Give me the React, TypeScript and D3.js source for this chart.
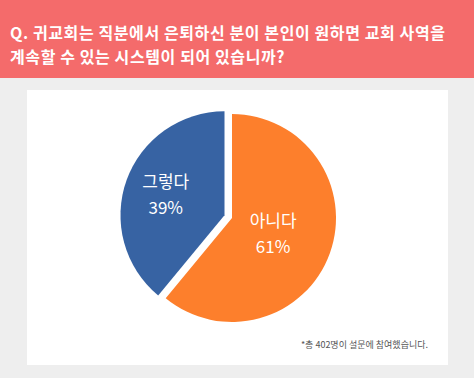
import React from "react";
import * as d3 from "d3";

const categories = ["아니다", "그렇다"];
const values = [61, 39];
const colors = ["#fd7f2c", "#3763a3"];
const titleLines = [
  "Q. 귀교회는 직분에서 은퇴하신 분이 본인이 원하면 교회 사역을",
  "계속할 수 있는 시스템이 되어 있습니까?",
];
const footnote = "*총 402명이 설문에 참여했습니다.";

export default function App() {
  const W = 474, H = 378;
  const cx = 232, cy = 218, r = 104;
  const pie = d3.pie<number>().sort(null).value((d) => d);
  const arcs = pie(values);
  const arc = d3.arc<d3.PieArcDatum<number>>().innerRadius(0).outerRadius(r);
  const offsets = [0, 8];
  const labelR = [r * 0.42, r * 0.6];
  return (
    <svg width={W} height={H} style={{ position: "absolute", left: 0, top: 0 }}
      fontFamily="'Noto Sans CJK KR', 'Noto Sans', sans-serif">
      <rect x={0} y={0} width={W} height={H} fill="#eeeeee" />
      <rect x={0} y={0} width={W} height={78} fill="#f46b6b" />
      {titleLines.map((t, i) => (
        <text key={i} x={10} y={39 + i * 24} fill="#ffffff" fontSize={16} fontWeight={700} letterSpacing={0.6}>{t}</text>
      ))}
      <rect x={27} y={90} width={421} height={275} fill="#ffffff" />
      {arcs.map((a, i) => {
        const mid = (a.startAngle + a.endAngle) / 2;
        const dx = Math.sin(mid) * offsets[i];
        const dy = -Math.cos(mid) * offsets[i];
        const [lx, ly] = [Math.sin(mid) * labelR[i], -Math.cos(mid) * labelR[i]];
        return (
          <g key={i} transform={`translate(${cx + dx},${cy + dy})`}>
            <path d={arc(a) || ""} fill={colors[i]} />
            <text x={lx} y={ly - 6} textAnchor="middle" fill="#ffffff" fontSize={17}>{categories[i]}</text>
            <text x={lx} y={ly + 20} textAnchor="middle" fill="#ffffff" fontSize={17}>{values[i]}%</text>
          </g>
        );
      })}
      <text x={428} y={348} textAnchor="end" fill="#555555" fontSize={9}>{footnote}</text>
    </svg>
  );
}
